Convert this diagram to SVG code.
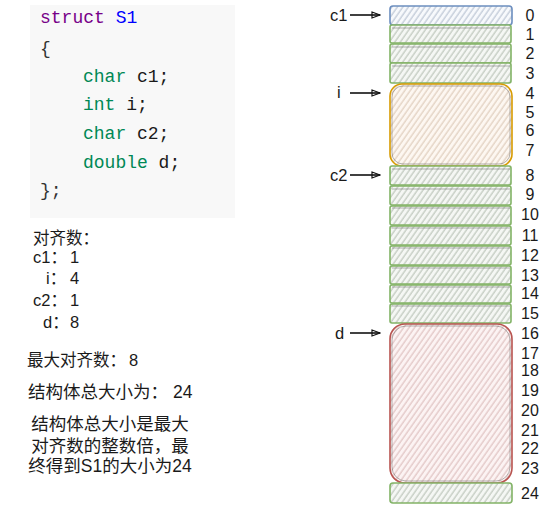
<svg xmlns="http://www.w3.org/2000/svg" width="553" height="508" viewBox="0 0 553 508">
<style>
.t{font-family:"Liberation Sans","Noto Sans CJK SC",sans-serif;fill:#1a1a1a}
.n{font-family:"Liberation Sans",sans-serif;font-size:16px;fill:#1a1a1a;text-anchor:middle}
.code{font-family:"Liberation Mono",monospace;font-size:18px;fill:#1a1a1a}
.kw{fill:#770088}.df{fill:#0000ff}.ty{fill:#008855}.pn{fill:#333333}
.g{fill:url(#hg);stroke:#82b366;stroke-width:1.6}
.sh{fill:none;stroke:#555;stroke-width:0.8;opacity:0.55}
.arr{stroke:#111;stroke-width:1.6;fill:none}
</style>
<defs>
<pattern id="hb" patternUnits="userSpaceOnUse" width="4.5" height="5" patternTransform="rotate(35)"><rect width="4.5" height="5" fill="#f7f9fc"/><line x1="1" y1="0" x2="1" y2="5" stroke="#b0bccc" stroke-width="1"/></pattern>
<pattern id="hg" patternUnits="userSpaceOnUse" width="4.5" height="5" patternTransform="rotate(35)"><rect width="4.5" height="5" fill="#f5f7f4"/><line x1="1" y1="0" x2="1" y2="5" stroke="#b3bdb0" stroke-width="1"/></pattern>
<pattern id="ho" patternUnits="userSpaceOnUse" width="4.5" height="5" patternTransform="rotate(35)"><rect width="4.5" height="5" fill="#fdf7f1"/><line x1="1" y1="0" x2="1" y2="5" stroke="#dac5b2" stroke-width="1"/></pattern>
<pattern id="hr" patternUnits="userSpaceOnUse" width="4.5" height="5" patternTransform="rotate(35)"><rect width="4.5" height="5" fill="#fcf3f3"/><line x1="1" y1="0" x2="1" y2="5" stroke="#dab8b7" stroke-width="1"/></pattern>
<marker id="ah" markerWidth="10" markerHeight="8" refX="9" refY="4" orient="auto" markerUnits="userSpaceOnUse"><path d="M1,1 L9,4 L1,7 Z" fill="none" stroke="#111" stroke-width="1.2"/></marker>
</defs>

<g id="code">
<rect x="30" y="5" width="205" height="213" fill="#f8f8f8"/>
<text class="code" x="40" y="23"><tspan class="kw">struct</tspan> <tspan class="df">S1</tspan></text>
<text class="code pn" x="40" y="54">{</text>
<text class="code" x="83" y="82"><tspan class="ty">char</tspan> c1;</text>
<text class="code" x="83" y="110"><tspan class="ty">int</tspan> i;</text>
<text class="code" x="83" y="139"><tspan class="ty">char</tspan> c2;</text>
<text class="code" x="83" y="168"><tspan class="ty">double</tspan> d;</text>
<text class="code pn" x="40" y="196">};</text>
</g>

<g id="align-list">
<text class="t" font-size="16.5" x="33" y="244">对齐数：</text>
<text class="t" font-size="16.5" x="33" y="263">c1：<tspan x="70">1</tspan></text>
<text class="t" font-size="16.5" x="46" y="284">i：<tspan x="70">4</tspan></text>
<text class="t" font-size="16.5" x="33" y="306">c2：<tspan x="70">1</tspan></text>
<text class="t" font-size="16.5" x="43" y="328">d：<tspan x="70">8</tspan></text>
</g>
<g id="max-align">
<text class="t" font-size="16.5" x="27" y="366">最大对齐数：<tspan x="129">8</tspan></text>
</g>
<g id="total-size">
<text class="t" font-size="17.5" x="28" y="398">结构体总大小为：<tspan x="173">24</tspan></text>
</g>
<g id="note">
<text class="t" font-size="17.5" x="110" y="430" text-anchor="middle">结构体总大小是最大</text>
<text class="t" font-size="17.5" x="110" y="452" text-anchor="middle">对齐数的整数倍，最</text>
<text class="t" font-size="17.5" x="110" y="472" text-anchor="middle">终得到S1的大小为24</text>
</g>

<g id="box-c1">
<rect x="390" y="6" width="122" height="19" rx="3" fill="url(#hb)" stroke="#6c8ebf" stroke-width="1.6"/>
</g>
<g id="box-pad1-3">
<rect class="g" x="390" y="25" width="121" height="18" rx="2"/><line class="sh" x1="392" y1="28" x2="510" y2="28"/>
<rect class="g" x="390" y="44" width="121" height="19" rx="2"/><line class="sh" x1="392" y1="47" x2="510" y2="47"/>
<rect class="g" x="390" y="63" width="121" height="20" rx="2"/><line class="sh" x1="392" y1="66" x2="510" y2="66"/>
</g>
<g id="box-i">
<rect x="390" y="84" width="122" height="82" rx="12" fill="url(#ho)" stroke="#d79b00" stroke-width="1.6"/>
<rect class="sh" x="392" y="86" width="118" height="78" rx="11"/>
</g>
<g id="box-c2">
<rect class="g" x="390" y="166" width="121" height="19" rx="2"/><line class="sh" x1="392" y1="169" x2="510" y2="169"/>
</g>
<g id="box-pad9-15">
<rect class="g" x="390" y="186" width="121" height="19" rx="2"/><line class="sh" x1="392" y1="189" x2="510" y2="189"/>
<rect class="g" x="390" y="206" width="121" height="19" rx="2"/><line class="sh" x1="392" y1="208" x2="510" y2="208"/>
<rect class="g" x="390" y="226" width="121" height="19" rx="2"/><line class="sh" x1="392" y1="228" x2="510" y2="228"/>
<rect class="g" x="390" y="246" width="121" height="19" rx="2"/><line class="sh" x1="392" y1="248" x2="510" y2="248"/>
<rect class="g" x="390" y="266" width="121" height="18" rx="2"/><line class="sh" x1="392" y1="268" x2="510" y2="268"/>
<rect class="g" x="390" y="285" width="121" height="18" rx="2"/><line class="sh" x1="392" y1="287" x2="510" y2="287"/>
<rect class="g" x="390" y="304" width="121" height="19" rx="2"/><line class="sh" x1="392" y1="306" x2="510" y2="306"/>
</g>
<g id="box-d">
<rect x="390" y="324" width="122" height="159" rx="15" fill="url(#hr)" stroke="#b85450" stroke-width="1.6"/>
<rect class="sh" x="392" y="326" width="118" height="155" rx="14"/>
</g>
<g id="box-pad24">
<rect class="g" x="390" y="483" width="122" height="20" rx="3"/>
</g>

<g id="labels">
<text class="t" font-size="16.5" x="330" y="21">c1</text>
<text class="t" font-size="16.5" x="337" y="98">i</text>
<text class="t" font-size="16.5" x="330" y="181">c2</text>
<text class="t" font-size="16.5" x="335" y="339">d</text>
</g>

<g id="connectors">
<line class="arr" x1="350" y1="15" x2="380" y2="15" marker-end="url(#ah)"/>
<line class="arr" x1="350" y1="93" x2="380" y2="93" marker-end="url(#ah)"/>
<line class="arr" x1="350" y1="175" x2="380" y2="175" marker-end="url(#ah)"/>
<line class="arr" x1="350" y1="333" x2="380" y2="333" marker-end="url(#ah)"/>
</g>

<g id="offsets">
<text class="n" x="530" y="21">0</text>
<text class="n" x="530" y="40">1</text>
<text class="n" x="530" y="59">2</text>
<text class="n" x="530" y="79">3</text>
<text class="n" x="530" y="99">4</text>
<text class="n" x="530" y="118">5</text>
<text class="n" x="530" y="136">6</text>
<text class="n" x="530" y="156">7</text>
<text class="n" x="530" y="181">8</text>
<text class="n" x="530" y="200">9</text>
<text class="n" x="530" y="220">10</text>
<text class="n" x="530" y="241">11</text>
<text class="n" x="530" y="261">12</text>
<text class="n" x="530" y="281">13</text>
<text class="n" x="530" y="299">14</text>
<text class="n" x="530" y="319">15</text>
<text class="n" x="530" y="339">16</text>
<text class="n" x="530" y="359">17</text>
<text class="n" x="530" y="376">18</text>
<text class="n" x="530" y="396">19</text>
<text class="n" x="530" y="416">20</text>
<text class="n" x="530" y="436">21</text>
<text class="n" x="530" y="454">22</text>
<text class="n" x="530" y="474">23</text>
<text class="n" x="530" y="499">24</text>
</g>
</svg>
